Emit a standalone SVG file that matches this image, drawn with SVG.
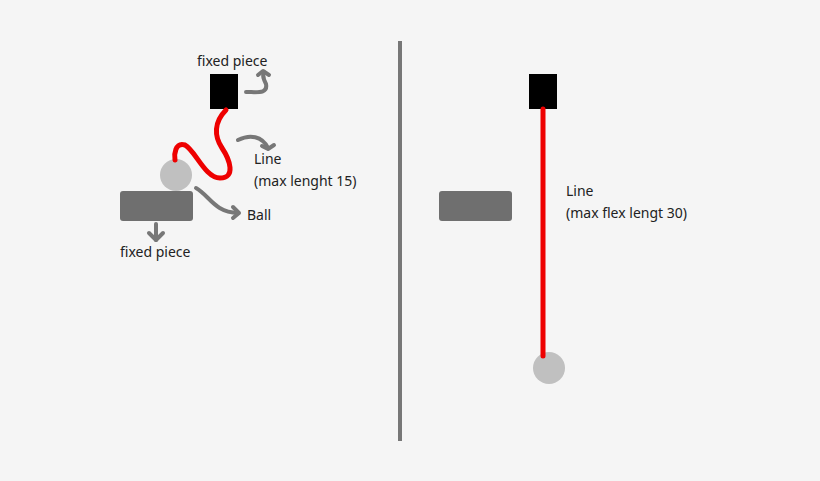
<svg xmlns="http://www.w3.org/2000/svg" width="820" height="481" viewBox="0 0 820 481">
<style>
.t{font-family:"Noto Sans","DejaVu Sans",sans-serif;font-size:14px;fill:#222}
.a{fill:none;stroke:#777;stroke-width:4;stroke-linecap:round;stroke-linejoin:round}
.fix{fill:#000}
.blk{fill:#6f6f6f}
.ball{fill:#c0c0c0}
.red{fill:none;stroke:#e00;stroke-width:5;stroke-linecap:round;stroke-linejoin:round}
</style>
<rect width="820" height="481" fill="#f5f5f5"/>
<g id="divider"><rect x="398" y="41" width="4" height="400" fill="#777"/></g>
<g id="left-top-fixed"><rect class="fix" x="210" y="74" width="28" height="35"/><text class="t" x="197" y="66">fixed piece</text></g>
<g id="left-block"><rect class="blk" x="120" y="191" width="73" height="30" rx="3"/><text class="t" x="120" y="257">fixed piece</text></g>
<g id="left-ball"><circle class="ball" cx="176" cy="175" r="16"/><text class="t" x="247" y="220">Ball</text></g>
<g id="left-line-label"><text class="t" x="254" y="164">Line</text><text class="t" x="254" y="186">(max lenght 15)</text></g>
<g id="right-fixed"><rect class="fix" x="529" y="74" width="28" height="35"/></g>
<g id="right-block"><rect class="blk" x="439" y="191" width="73" height="30" rx="3"/></g>
<g id="right-ball"><circle class="ball" cx="549" cy="368" r="16"/></g>
<g id="right-label"><text class="t" x="566" y="196">Line</text><text class="t" x="566" y="218">(max flex lengt 30)</text></g>
<g id="connectors">
<path class="red" d="M226,110 C214,122 214,136 222,148 C230,160 236,178 220,178 C205,178 195,150 185,145 C175,142 174,155 175,160"/>
<line class="red" x1="543" y1="109" x2="543" y2="356"/>
<path class="a" d="M246,92 C258,92 268,94 266,84 C264,80 262,76 264,72"/>
<path class="a" d="M258,75 L263,71 L269,75"/>
<path class="a" d="M238,140 C250,134 262,136 268,148"/>
<path class="a" d="M262,146 L268,149 L274,145"/>
<path class="a" d="M196,188 C210,196 214,212 238,213"/>
<path class="a" d="M233,207 L239,213 L233,218"/>
<path class="a" d="M156,224 L156,240"/>
<path class="a" d="M149,233 L156,240 L163,233"/>
</g>
</svg>
